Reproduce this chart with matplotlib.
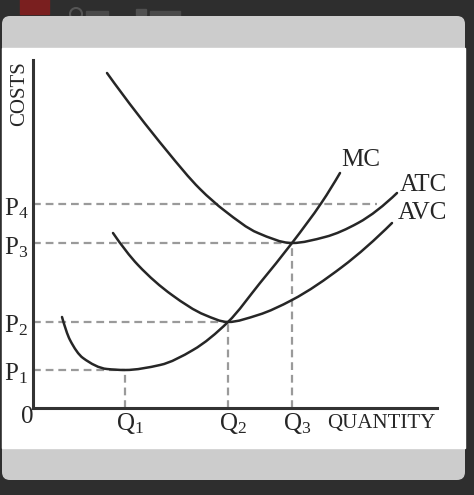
import numpy as np
import matplotlib
matplotlib.use("Agg")
import matplotlib.pyplot as plt
from matplotlib.path import Path
from matplotlib.patches import PathPatch, FancyBboxPatch, Rectangle, Circle

plt.rcParams['font.family'] = ['Liberation Serif', 'DejaVu Serif']
plt.rcParams['mathtext.fontset'] = 'custom'
plt.rcParams['mathtext.rm'] = 'Liberation Serif'
plt.rcParams['mathtext.it'] = 'Liberation Serif:italic'

# ---- data (axis units) ----
mc_x = [29, 37, 50, 74, 92, 127, 160, 195, 227, 259, 289, 307]
mc_y = [91, 68, 50, 39, 38, 43, 58, 86, 125, 165, 206, 235]
avc_x = [80, 105, 139, 172, 195, 225, 259, 309, 359]
avc_y = [175, 143, 113, 93, 86, 93, 108, 141, 185]
atc_x = [74, 134, 167, 192, 225, 259, 292, 325, 364]
atc_y = [335, 257, 219, 197, 175, 165, 171, 185, 215]
q_levels = [92, 195, 259]
q_labels = ['Q_1', 'Q_2', 'Q_3']
p_levels = [38, 86, 165, 204]
p_labels = ['P_1', 'P_2', 'P_3', 'P_4']
p_ends = [92, 195, 259, 344]

W, H = 474, 495
fig = plt.figure(figsize=(W / 100, H / 100), dpi=100)
fig.patch.set_facecolor('#2e2e2e')

bg = fig.add_axes([0, 0, 1, 1])
bg.set_xlim(0, W)
bg.set_ylim(H, 0)
bg.axis('off')
bg.add_patch(Rectangle((20, -2), 29, 16, color='#7a1f1f', zorder=1))
bg.add_patch(Circle((76, 14), 6, fc='none', ec='#555555', lw=1.5, zorder=1))
bg.add_patch(Rectangle((86, 11), 22, 5, color='#4a4a4a', zorder=1))
bg.add_patch(Rectangle((136, 9), 10, 6, color='#505050', zorder=1))
bg.add_patch(Rectangle((150, 11), 30, 5, color='#4a4a4a', zorder=1))
bg.add_patch(FancyBboxPatch((2, 16), 463, 464, boxstyle='round,pad=0,rounding_size=8',
                            fc='#cccccc', ec='none', zorder=2))
bg.add_patch(Rectangle((2, 48), 463, 400, color='white', zorder=3))

x0, y0, x1, y1 = 33, 408, 437, 60
ax = fig.add_axes([x0 / W, (H - y0) / H, (x1 - x0) / W, (y0 - y1) / H])
ax.set_xlim(0, x1 - x0)
ax.set_ylim(0, y0 - y1)
ax.patch.set_alpha(0)
for s in ['top', 'right']:
    ax.spines[s].set_visible(False)
for s in ['left', 'bottom']:
    ax.spines[s].set_linewidth(2.2)
    ax.spines[s].set_color('#333333')
ax.set_xticks([])
ax.set_yticks([])


def pchip_slopes(x, y):
    x = np.asarray(x, float)
    y = np.asarray(y, float)
    h = np.diff(x)
    d = np.diff(y) / h
    n = len(x)
    m = np.zeros(n)
    for k in range(1, n - 1):
        if d[k - 1] * d[k] > 0:
            w1 = 2 * h[k] + h[k - 1]
            w2 = h[k] + 2 * h[k - 1]
            m[k] = (w1 + w2) / (w1 / d[k - 1] + w2 / d[k])

    def end(h0, h1, d0, d1):
        v = ((2 * h0 + h1) * d0 - h0 * d1) / (h0 + h1)
        if np.sign(v) != np.sign(d0):
            return 0.0
        if np.sign(d0) != np.sign(d1) and abs(v) > 3 * abs(d0):
            return 3 * d0
        return v
    m[0] = end(h[0], h[1], d[0], d[1])
    m[-1] = end(h[-1], h[-2], d[-1], d[-2])
    return x, y, m


def smooth(xs, ys):
    x, y, m = pchip_slopes(xs, ys)
    verts = [(x[0], y[0])]
    codes = [Path.MOVETO]
    for i in range(len(x) - 1):
        hh = (x[i + 1] - x[i]) / 3
        verts += [(x[i] + hh, y[i] + m[i] * hh),
                  (x[i + 1] - hh, y[i + 1] - m[i + 1] * hh),
                  (x[i + 1], y[i + 1])]
        codes += [Path.CURVE4] * 3
    return Path(verts, codes)


for xs, ys in [(mc_x, mc_y), (avc_x, avc_y), (atc_x, atc_y)]:
    ax.add_patch(PathPatch(smooth(xs, ys), fc='none', ec='#262626', lw=1.8,
                           capstyle='round', zorder=3, clip_on=False))

dash = dict(color='#9a9a9a', lw=1.6, ls=(0, (3.5, 2.2)), zorder=2)
for p, e in zip(p_levels, p_ends):
    ax.plot([0, e], [p, p], **dash)
for q, p in zip(q_levels, p_levels[:3]):
    ax.plot([q, q], [0, p], **dash)

tc = '#262626'
fs = 18
p_base = [28, 76, 154, 193]
for b, lab in zip(p_base, p_labels):
    ax.text(-29, b, '$\\mathrm{%s}$' % lab, fontsize=fs, ha='left', va='baseline',
            color=tc, clip_on=False)
for q, lab in zip(q_levels, q_labels):
    ax.text(q - 9, -22, '$\\mathrm{%s}$' % lab, fontsize=fs, ha='left', va='baseline',
            color=tc, clip_on=False)
ax.text(-6, -15, '0', fontsize=fs, ha='center', va='baseline', color=tc)
ax.text(294, -20, 'QUANTITY', fontsize=15, ha='left', va='baseline', color=tc)
ax.text(-13, 314, 'COSTS', fontsize=15, rotation=90, ha='center', va='center', color=tc)
ax.text(328, 248, 'MC', fontsize=fs, ha='center', va='center', color=tc)
ax.text(390, 223, 'ATC', fontsize=fs, ha='center', va='center', color=tc)
ax.text(389, 195, 'AVC', fontsize=fs, ha='center', va='center', color=tc)

fig.savefig('out.png', dpi=100, facecolor=fig.get_facecolor())
